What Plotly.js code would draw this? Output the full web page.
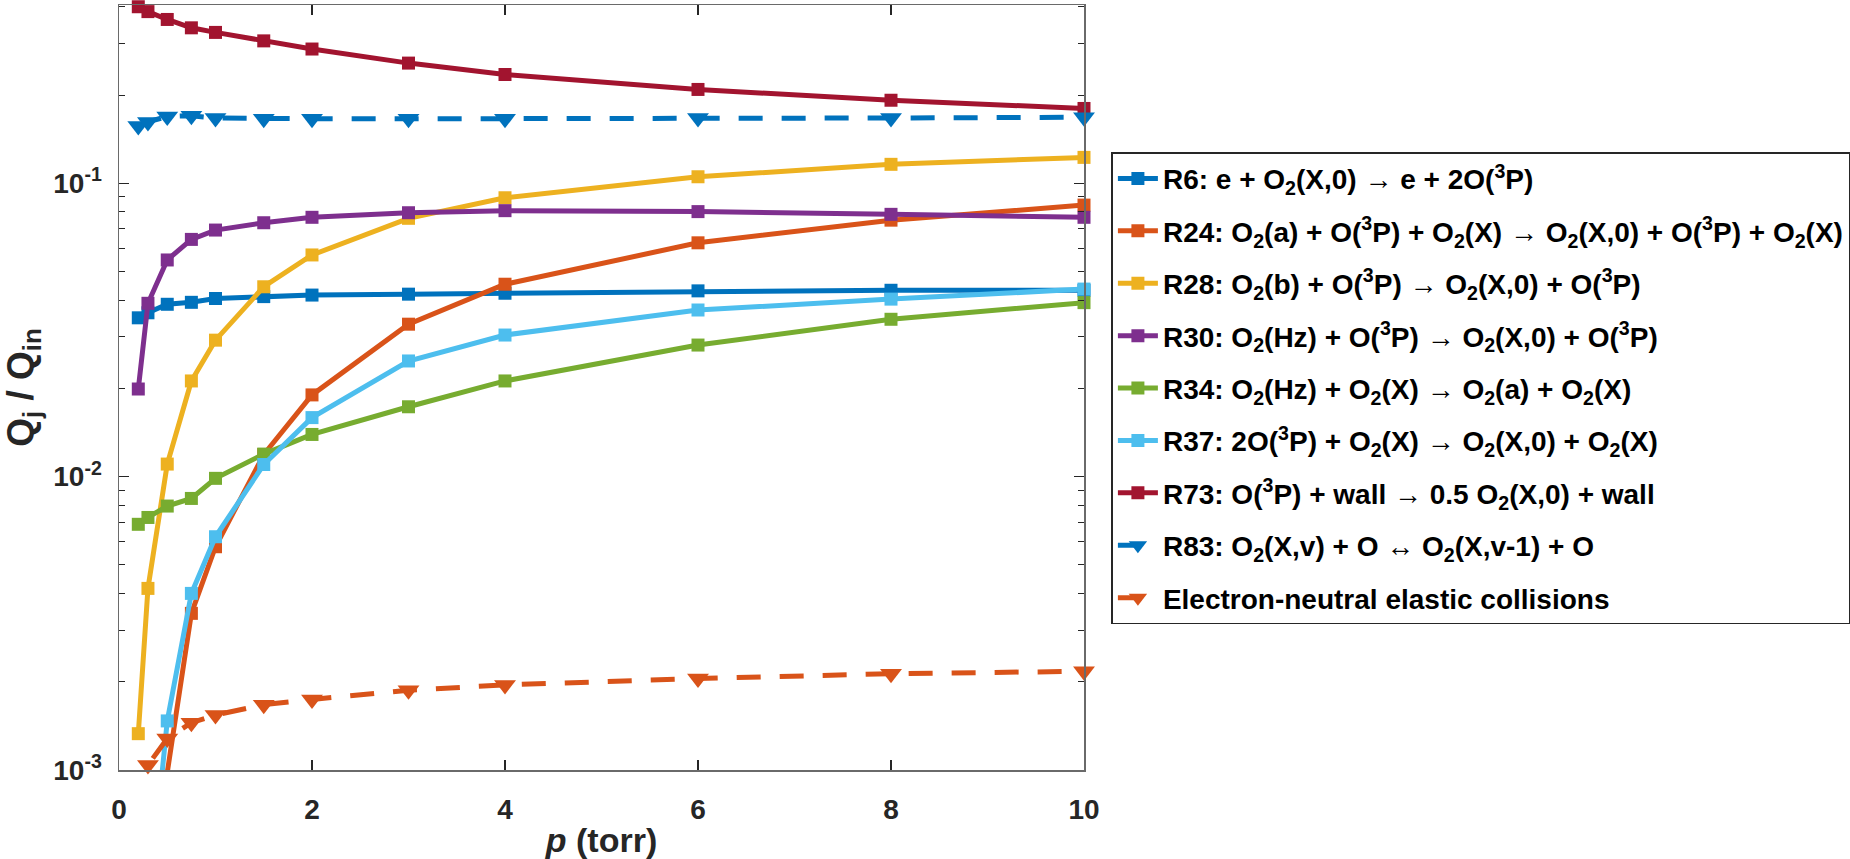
<!DOCTYPE html>
<html>
<head>
<meta charset="utf-8">
<script src="https://cdn.plot.ly/plotly-3.0.1.min.js"></script>
<style>
html,body{margin:0;padding:0;background:#ffffff;}
#chart{width:1850px;height:859px;}
</style>
</head>
<body>
<div id="chart"></div>
<script>
// ---- data ----
const pressure = [0.2, 0.3, 0.5, 0.75, 1, 1.5, 2, 3, 4, 6, 8, 10];

const R6  = [0.0348, 0.0362, 0.0387, 0.0393, 0.0405, 0.0411, 0.0416, 0.0419, 0.0422, 0.0430, 0.0432, 0.0432];
const R24 = [0.0001, 0.0003, 0.00098, 0.00342, 0.00577, 0.0119, 0.0190, 0.0331, 0.0453, 0.0627, 0.0749, 0.0843];
const R28 = [0.00133, 0.00416, 0.01104, 0.0212, 0.0292, 0.0444, 0.0570, 0.0760, 0.0893, 0.1053, 0.1161, 0.1226];
const R30 = [0.0199, 0.0390, 0.0548, 0.0644, 0.0693, 0.0734, 0.0766, 0.0794, 0.0807, 0.0801, 0.0784, 0.0766];
const R34 = [0.00688, 0.00726, 0.00794, 0.00843, 0.00987, 0.01194, 0.01393, 0.01731, 0.0212, 0.0281, 0.0344, 0.0392];
const R37 = [0.00012, 0.00032, 0.00147, 0.0040, 0.00624, 0.0110, 0.0159, 0.0248, 0.0304, 0.0370, 0.0403, 0.0436];
const R73 = [0.400, 0.385, 0.362, 0.339, 0.327, 0.306, 0.287, 0.257, 0.235, 0.209, 0.192, 0.180];
const R83 = [0.157, 0.162, 0.169, 0.170, 0.167, 0.166, 0.166, 0.166, 0.166, 0.167, 0.167, 0.168];
const elastic = [0.0008, 0.00104, 0.00128, 0.00145, 0.00154, 0.00167, 0.00174, 0.00187, 0.00195, 0.00205, 0.00213, 0.00217];

const seriesNames = [
  'R6: e + O<sub>2</sub>(X,0) \u2192 e + 2O(<sup>3</sup>P)',
  'R24: O<sub>2</sub>(a) + O(<sup>3</sup>P) + O<sub>2</sub>(X) \u2192 O<sub>2</sub>(X,0) + O(<sup>3</sup>P) + O<sub>2</sub>(X)',
  'R28: O<sub>2</sub>(b) + O(<sup>3</sup>P) \u2192 O<sub>2</sub>(X,0) + O(<sup>3</sup>P)',
  'R30: O<sub>2</sub>(Hz) + O(<sup>3</sup>P) \u2192 O<sub>2</sub>(X,0) + O(<sup>3</sup>P)',
  'R34: O<sub>2</sub>(Hz) + O<sub>2</sub>(X) \u2192 O<sub>2</sub>(a) + O<sub>2</sub>(X)',
  'R37: 2O(<sup>3</sup>P) + O<sub>2</sub>(X) \u2192 O<sub>2</sub>(X,0) + O<sub>2</sub>(X)',
  'R73: O(<sup>3</sup>P) + wall \u2192 0.5 O<sub>2</sub>(X,0) + wall',
  'R83: O<sub>2</sub>(X,v) + O \u2194 O<sub>2</sub>(X,v-1) + O',
  'Electron-neutral elastic collisions'
];

const xTickVals = [0, 2, 4, 6, 8, 10];
const yTickVals = [0.001, 0.01, 0.1];
const yTickText = ['10<sup>-3</sup>', '10<sup>-2</sup>', '10<sup>-1</sup>'];
const yMinorVals = [0.002,0.003,0.004,0.005,0.006,0.007,0.008,0.009,
                    0.02,0.03,0.04,0.05,0.06,0.07,0.08,0.09,
                    0.2,0.3,0.4];

// ---- styles ----
const FONT = 'Liberation Sans, Arial, Helvetica, sans-serif';
const seriesValues = [R6, R24, R28, R30, R34, R37, R73, R83, elastic];
const seriesColors = ['#0072BD','#D95319','#EDB120','#7E2F8E','#77AC30','#4DBEEE','#A2142F','#0072BD','#D95319'];
const dashed = [false,false,false,false,false,false,false,true,true];

const traces = seriesValues.map((vals, i) => ({
  type: 'scatter',
  mode: 'lines+markers',
  x: pressure,
  y: vals,
  name: seriesNames[i],
  legendgroup: 'g' + i,
  line: {color: seriesColors[i], width: 5, dash: dashed[i] ? '24px,19px' : 'solid'},
  marker: {
    color: seriesColors[i],
    symbol: dashed[i] ? 'triangle-down' : 'square',
    size: dashed[i] ? 19 : 13,
    line: {width: 0}
  },
  cliponaxis: false
}));

const layout = {
  width: 1850,
  height: 859,
  margin: {l: 119, r: 766, t: 5, b: 89, autoexpand: false},
  paper_bgcolor: '#ffffff',
  plot_bgcolor: '#ffffff',
  font: {family: FONT, size: 28, color: '#262626', weight: 'bold'},
  showlegend: true,
  legend: {
    x: 1.0284, xanchor: 'left',
    y: 0.8075, yanchor: 'top',
    bgcolor: '#ffffff',
    bordercolor: '#262626',
    borderwidth: 1.5,
    font: {family: FONT, size: 28, color: '#000000', weight: 'bold'},
    itemwidth: 40,
    traceorder: 'grouped',
    tracegroupgap: 13
  },
  xaxis: {
    range: [0, 10],
    tickmode: 'array',
    tickvals: xTickVals,
    ticks: 'inside',
    ticklen: 10,
    tickwidth: 1.2,
    tickcolor: '#262626',
    showline: true,
    linecolor: '#6a6a6a',
    linewidth: 1.5,
    mirror: 'ticks',
    showgrid: false,
    zeroline: false,
    ticklabelstandoff: 14,
    tickfont: {family: FONT, size: 28, color: '#262626', weight: 'bold'},
    title: {text: '<i>p</i> (torr)', font: {family: FONT, size: 34, color: '#262626', weight: 'bold'}, standoff: 8}
  },
  yaxis: {
    type: 'log',
    range: [-3, -0.392],
    tickmode: 'array',
    tickvals: yTickVals,
    ticktext: yTickText,
    ticks: 'inside',
    ticklen: 10,
    tickwidth: 1.2,
    tickcolor: '#262626',
    minor: {tickmode: 'array', tickvals: yMinorVals, ticks: 'inside', ticklen: 6, tickwidth: 1, tickcolor: '#262626', showgrid: false},
    showline: true,
    linecolor: '#6a6a6a',
    linewidth: 1.5,
    mirror: 'ticks',
    showgrid: false,
    zeroline: false,
    ticklabelstandoff: 10,
    tickfont: {family: FONT, size: 28, color: '#262626', weight: 'bold'},
    title: {text: 'Q<sub>j</sub> / Q<sub>in</sub>', font: {family: FONT, size: 37, color: '#262626', weight: 'bold'}, standoff: 12}
  }
};

Plotly.newPlot('chart', traces, layout, {displayModeBar: false, staticPlot: true});
</script>
</body>
</html>
